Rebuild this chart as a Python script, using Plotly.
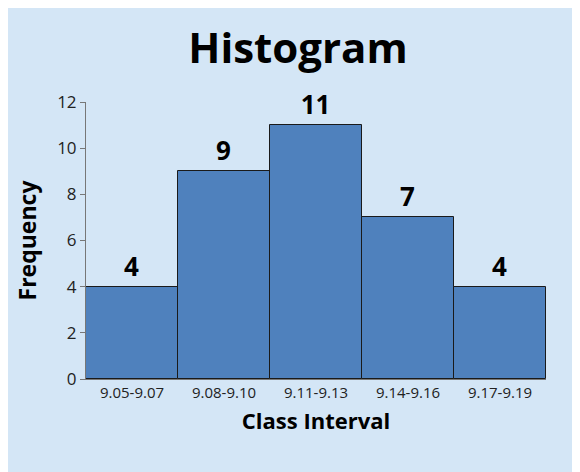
import plotly.graph_objects as go

categories = ["9.05-9.07", "9.08-9.10", "9.11-9.13", "9.14-9.16", "9.17-9.19"]
frequency = [4, 9, 11, 7, 4]

fig = go.Figure(go.Bar(
    x=categories, y=frequency, text=[str(v) for v in frequency],
    textposition="outside", cliponaxis=False,
    textfont=dict(size=26, color="black", family="Open Sans"),
    marker=dict(color="#4F81BD", line=dict(color="#1a1a1a", width=1)),
))
fig.update_layout(
    width=580, height=472,
    paper_bgcolor="#d4e6f6", plot_bgcolor="rgba(0,0,0,0)",
    margin=dict(l=78, r=42, t=94, b=101),
    bargap=0, showlegend=False,
    title=dict(text="<b>Histogram</b>", x=0.5, xanchor="center", y=0.915, yanchor="middle",
               font=dict(size=42, color="black", family="Open Sans")),
    font=dict(family="Open Sans", color="#222"),
)
fig.update_traces(texttemplate="<b>%{text}</b>")
fig.update_xaxes(title=dict(text="<b>Class Interval</b>", font=dict(size=22, color="black"), standoff=12),
                 tickfont=dict(size=15), showline=True, linecolor="#777", ticks="")
fig.update_yaxes(title=dict(text="<b>Frequency</b>", font=dict(size=23, color="black"), standoff=14),
                 range=[0, 12], dtick=2, tickfont=dict(size=17), showline=True, linecolor="#777",
                 ticks="outside", ticklen=5, tickcolor="#777", showgrid=False, zeroline=False)
fig.write_html("out.html")
